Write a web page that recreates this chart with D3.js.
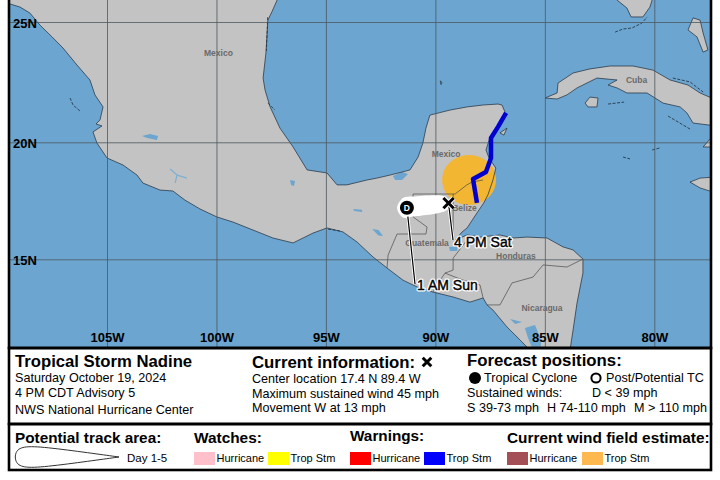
<!DOCTYPE html>
<html>
<head>
<meta charset="utf-8">
<title>Tropical Storm Nadine</title>
<script src="https://cdnjs.cloudflare.com/ajax/libs/d3/7.8.5/d3.min.js"></script>
<style>
  html, body { margin: 0; padding: 0; background: #fff; }
  svg { display: block; font-family: "Liberation Sans", Arial, sans-serif; }
</style>
</head>
<body>
<svg id="chart" width="720" height="480"></svg>
<script>
// all map data is [lon, lat]
var lonTicks = [-105, -100, -95, -90, -85, -80],
    latTicks = [25, 20, 15];

var mainland = [
  [-110,26.3],[-110,25.8],[-109.43,25.75],[-108.97,25.62],[-108.52,25.37],[-108.06,24.87],[-107.51,24.38],[-107.01,23.92],
  [-106.37,23.21],[-105.78,22.59],[-105.55,21.97],[-105.18,21.47],[-105.32,20.93],[-105.5,20.76],[-105.23,20.68],[-105.64,20.43],
  [-105.46,19.97],[-105,19.33],[-104.27,19.03],[-103.63,18.6],[-103.36,18.26],[-102.58,17.96],[-101.99,17.92],[-101.44,17.53],
  [-100.75,17.15],[-99.98,16.81],[-99.24,16.59],[-98.33,16.25],[-97.42,15.91],[-96.5,15.7],[-95.59,16.12],[-94.95,16.34],
  [-94.22,16.17],[-93.58,15.74],[-92.85,15.1],[-92.21,14.63],[-91.48,14.11],[-90.84,13.82],[-90.11,13.6],[-89.19,13.39],
  [-88.42,13.17],[-87.82,13.35],[-87.64,13.05],[-87.37,12.83],[-86.73,12.11],[-86.13,11.55],[-85.68,11.12],[-83.85,11.12],
  [-83.71,11.98],[-83.53,13.13],[-83.26,14.41],[-83.26,15.01],[-83.71,15.4],[-84.17,15.53],[-84.9,15.91],[-85.81,15.95],
  [-86.45,15.91],[-87.05,16.04],[-87.96,15.95],[-88.55,16.04],[-89.1,15.82],[-88.78,16.17],[-88.55,16.34],[-88.1,16.98],
  [-87.79,17.41],[-87.6,17.75],[-87.37,18.39],[-87.24,18.9],[-87.55,19.33],[-87.69,19.67],[-87.5,20.22],[-87.05,20.84],
  [-86.82,21.26],[-86.96,21.55],[-87.14,21.59],[-87.82,21.55],[-88.55,21.47],[-89.33,21.34],[-90.25,21.13],[-90.43,20.59],
  [-90.57,19.97],[-90.79,19.37],[-91.16,18.82],[-91.52,18.73],[-92.07,18.6],[-92.67,18.47],[-93.12,18.39],[-94.04,18.18],
  [-94.49,18.18],[-94.95,18.69],[-95.86,18.82],[-96.5,19.8],[-97.1,20.59],[-97.55,21.47],[-97.78,22.17],[-97.87,22.67],
  [-97.74,23.71],[-97.65,25.08],[-97.47,25.42],[-97.23,25.91],[-97.2,26.3]
];

var florida = [[-81.7,26.1],[-81.7,25.91],[-81.25,25.58],[-81.06,25.21],[-80.52,25.21],[-80.2,25.62],[-80.1,25.91],[-80.1,26.1]];
var cuba = [
  [-84.99,21.84],[-84.44,22.05],[-84.4,22.46],[-83.71,22.88],[-82.94,23.05],[-82.02,23.17],[-80.97,23.17],[-80.06,23],
  [-79.28,22.59],[-78.46,22.38],[-77.91,22.05],[-77.18,21.76],[-77.18,20.68],[-78.23,20.8],[-78.51,21.22],[-78.82,21.47],
  [-79.6,21.63],[-80.33,22.05],[-81.25,22.05],[-81.7,22.26],[-82.11,22.38],[-81.7,22.59],[-82.62,22.67],[-83.53,22.26],
  [-83.99,21.97],[-84.44,21.8]
];
var isleOfYouth = [[-83.16,21.63],[-82.94,21.88],[-82.57,21.84],[-82.62,21.47],[-83.03,21.47]];
var andros = [[-78.46,24.67],[-78.23,25.17],[-77.91,25.08],[-77.77,24.54],[-77.55,23.84],[-77.77,23.75],[-78.05,24.38]];
var jamaica = [[-78.37,18.3],[-77.91,18.47],[-77.18,18.52],[-77.18,17.83],[-77.91,18.05]];
var inagua = [[-77.77,19.8],[-77.45,20.14],[-77.18,20.14],[-77.18,19.8]];
var cozumel = [[-87.05,20.39],[-86.73,20.59],[-86.87,20.3]];
var alacran = [[-89.78,22.55],[-89.7,22.5],[-89.74,22.4]];
var landAreas = [mainland, florida, cuba, isleOfYouth, andros, jamaica, inagua, cozumel, alacran];

// cays and lagoons, too small to fill
var coastBits = [
  [[-81.79,24.58],[-81.43,24.71],[-81.02,24.75],[-80.56,24.96],[-80.33,25.21]],
  [[-81.43,19.37],[-81.11,19.29]],
  [[-80.1,19.67],[-79.74,19.76]],
  [[-82.11,21.59],[-81.38,21.67]],
  [[-79.37,21.09],[-78.37,20.55]],
  [[-79.15,22.67],[-78.37,22.51],[-77.77,22.09]],
  [[-106.69,21.84],[-106.55,21.55],[-106.23,21.3]],
  [[-97.66,25.2],[-97.72,23.8]],
  [[-97.65,21.63],[-97.33,21.34]],
  [[-94.9,16.29],[-94.36,16.21]]
];

var borders = [
  [[-92.21,14.63],[-92.16,15.18],[-91.75,16.08],[-90.43,16.08],[-90.38,16.38],[-91.02,16.81],[-91.02,17.79],[-89.1,17.79],[-88.56,18.18],[-88.33,18.3],[-87.82,18.39]],
  [[-89.19,17.79],[-89.19,16]],
  [[-88.55,15.82],[-89.19,15.05],[-89.19,14.54],[-89.56,14.41],[-89.93,13.9],[-90.11,13.6]],
  [[-89.56,14.41],[-88.74,14.11],[-87.96,13.9],[-87.82,13.35]],
  [[-87.64,13.05],[-87.05,13.05],[-86.5,13.99],[-85.54,14.24],[-85.08,14.76],[-83.99,14.67],[-83.26,15.01]]
];

var lakes = [
  [[-103.4,20.26],[-103.04,20.34],[-102.67,20.26],[-102.72,20.1],[-103.17,20.18]],
  [[-96.64,18.39],[-96.41,18.35],[-96.46,18.13],[-96.59,18.18]],
  [[-93.76,17.15],[-93.35,17.12],[-93.35,17.02],[-93.7,17.06]],
  [[-92.89,16.29],[-92.6,16.25],[-92.39,16],[-92.6,16.02]],
  [[-89.38,15.53],[-88.97,15.57],[-89.01,15.35],[-89.33,15.35]],
  [[-91.94,18.56],[-91.52,18.73],[-91.25,18.65],[-91.52,18.39],[-91.84,18.39]],
  [[-86.59,12.45],[-86.04,12.32],[-86.36,12.23]],
  [[-85.91,12.06],[-85.45,12.19],[-85.17,11.55],[-85.2,11.1],[-85.54,11.1],[-85.77,11.64]]
];
var reservoir = [
  [[-102.12,18.86],[-101.8,18.6],[-101.89,18.26]],
  [[-101.8,18.6],[-101.35,18.47]]
];

var countryNames = ["Mexico", "Mexico", "Cuba", "Belize", "Guatemala", "Honduras", "Nicaragua"],
    countryLons = [-99.91, -89.51, -80.81, -88.67, -90.38, -86.32, -85.13],
    countryLats = [23.59, 19.37, 22.46, 17.06, 15.57, 15.01, 12.79];

var windField = [
  [-87.23,18.39],[-87.39,18.93],[-87.85,19.32],[-88.46,19.46],[-89.07,19.32],[-89.53,18.93],
  [-89.69,18.39],[-89.53,17.85],[-89.07,17.46],[-88.46,17.32],[-87.85,17.46],[-87.39,17.85]
];
var warningLine = [[-86.77,21.22],[-87.14,20.64],[-87.46,20.18],[-87.46,19.33],[-87.69,18.73],[-88.28,18.43],[-88.1,17.41]];
var trackCone = [[-91.48,17.62],[-91.02,17.68],[-89.56,17.68],[-89.36,17.41],[-89.47,17.11],[-91.02,16.83],[-91.48,16.79],[-91.75,17.19]];
var currentPos = [-89.4, 17.4],
    forecastPos = [-91.3, 17.2];

var infoLeft = ["Saturday October 19, 2024", "4 PM CDT Advisory 5", "NWS National Hurricane Center"],
    infoMiddle = ["Center location 17.4 N 89.4 W", "Maximum sustained wind 45 mph", "Movement W at 13 mph"];

var svg = d3.select("#chart");

var lonScale = d3.scaleLinear().domain([-105, -80]).range([107, 654.3]),
    latScale = d3.scaleLinear().domain([15, 20, 25]).range([259.3, 142.3, 22]);

var line = d3.line().x(function (d) { return lonScale(d[0]); }).y(function (d) { return latScale(d[1]); }),
    closedLine = d3.line().x(function (d) { return lonScale(d[0]); }).y(function (d) { return latScale(d[1]); }).curve(d3.curveLinearClosed),
    roundLine = d3.line().x(function (d) { return lonScale(d[0]); }).y(function (d) { return latScale(d[1]); }).curve(d3.curveCatmullRomClosed);

svg.append("clipPath").attr("id", "map-clip")
  .append("rect").attr("x", 9).attr("y", 0).attr("width", 702).attr("height", 348);

var map = svg.append("g").attr("clip-path", "url(#map-clip)");

map.append("rect").attr("x", 9).attr("y", 0).attr("width", 702).attr("height", 348).attr("fill", "#6ca5cf");

map.selectAll(".land").data(landAreas).enter().append("path")
  .attr("class", "land").attr("d", closedLine).attr("fill", "#c3c3c3");

map.selectAll(".lake").data(lakes).enter().append("path")
  .attr("class", "lake").attr("d", closedLine).attr("fill", "#6ca5cf");

map.selectAll(".reservoir").data(reservoir).enter().append("path")
  .attr("class", "reservoir").attr("d", line).attr("fill", "none").attr("stroke", "#7fafd2").attr("stroke-width", 1.2);

map.append("path").attr("d", roundLine(windField)).attr("fill", "#f2b632");

map.selectAll(".coast").data(landAreas).enter().append("path")
  .attr("class", "coast").attr("d", closedLine).attr("fill", "none").attr("stroke", "#1d2b3a").attr("stroke-width", 0.7);

map.selectAll(".coast-bit").data(coastBits).enter().append("path")
  .attr("class", "coast-bit").attr("d", line).attr("fill", "none").attr("stroke", "#1d2b3a")
  .attr("stroke-width", 0.8).attr("stroke-dasharray", "3 1.5");

map.selectAll(".border").data(borders).enter().append("path")
  .attr("class", "border").attr("d", line).attr("fill", "none").attr("stroke", "#4b4b4b").attr("stroke-width", 0.7);

// grid and tick labels come from the axes
var xAxis = d3.axisBottom(lonScale).tickValues(lonTicks).tickSize(-348)
  .tickFormat(function (d) { return -d + "W"; });
var xg = map.append("g").attr("transform", "translate(0,348)").call(xAxis);
var yAxis = d3.axisRight(latScale).tickValues(latTicks).tickSize(702)
  .tickFormat(function (d) { return d + "N"; });
var yg = map.append("g").attr("transform", "translate(9,0)").call(yAxis);
[xg, yg].forEach(function (g) {
  g.select(".domain").remove();
  g.selectAll("line").attr("stroke", "#4d5860").attr("stroke-width", 0.8);
  g.selectAll("text").attr("fill", "#000").style("font-family", "'Liberation Sans', Arial, sans-serif")
    .style("font-size", "13px").style("font-weight", "bold");
});
xg.selectAll("text").attr("y", -6).attr("dy", 0).attr("text-anchor", "middle");
yg.selectAll("text").attr("x", 4).attr("dy", 5).attr("text-anchor", "start");

map.selectAll(".name").data(countryNames).enter().append("text")
  .attr("class", "name")
  .attr("x", function (d, i) { return lonScale(countryLons[i]); })
  .attr("y", function (d, i) { return latScale(countryLats[i]); })
  .attr("text-anchor", "middle").attr("fill", "#6a6a6a")
  .style("font-size", "8.5px").style("font-weight", "bold")
  .text(function (d) { return d; });

map.append("path").attr("d", line(warningLine)).attr("fill", "none")
  .attr("stroke", "#0000d0").attr("stroke-width", 4.5).attr("stroke-linejoin", "round");

map.append("path").attr("d", roundLine(trackCone)).attr("fill", "#fff");

// leader lines with a white edge
var leaders = [
  {from: currentPos, x: 453, y: 240},
  {from: forecastPos, x: 415, y: 284}
];
leaders.forEach(function (l) {
  [["#fff", 3], ["#000", 1.2]].forEach(function (s) {
    map.append("line")
      .attr("x1", lonScale(l.from[0])).attr("y1", latScale(l.from[1]))
      .attr("x2", l.x).attr("y2", l.y)
      .attr("stroke", s[0]).attr("stroke-width", s[1]);
  });
});

function haloText (txt, x, y) {
  [true, false].forEach(function (halo) {
    var t = map.append("text").attr("x", x).attr("y", y)
      .style("font-size", "14px").style("font-weight", "normal").text(txt);
    if (halo) {
      t.attr("fill", "#fff").attr("stroke", "#fff").attr("stroke-width", 3).attr("stroke-linejoin", "round");
    } else {
      t.attr("fill", "#000").attr("stroke", "#000").attr("stroke-width", 0.4);
    }
  });
}
haloText("4 PM Sat", 454, 247);
haloText("1 AM Sun", 417, 290);

// forecast point
map.append("circle").attr("cx", lonScale(forecastPos[0])).attr("cy", latScale(forecastPos[1]))
  .attr("r", 9).attr("fill", "#fff");
map.append("circle").attr("cx", lonScale(forecastPos[0])).attr("cy", latScale(forecastPos[1]))
  .attr("r", 7).attr("fill", "#000");
map.append("text").attr("x", lonScale(forecastPos[0])).attr("y", latScale(forecastPos[1]) + 3)
  .attr("text-anchor", "middle").attr("fill", "#fff")
  .style("font-size", "8.5px").style("font-weight", "bold").text("D");

// current position
var xMark = d3.symbol().type(d3.symbolTimes).size(70);
map.append("path").attr("d", xMark())
  .attr("transform", "translate(" + lonScale(currentPos[0]) + "," + latScale(currentPos[1]) + ")")
  .attr("fill", "none").attr("stroke", "#fff").attr("stroke-width", 5);
map.append("path").attr("d", xMark())
  .attr("transform", "translate(" + lonScale(currentPos[0]) + "," + latScale(currentPos[1]) + ")")
  .attr("fill", "none").attr("stroke", "#000").attr("stroke-width", 3);

// frame, the map has no top edge
[[9, -5, 702, 353], [9, 348, 702, 76], [9, 424, 702, 46]].forEach(function (r) {
  svg.append("rect").attr("x", r[0]).attr("y", r[1]).attr("width", r[2]).attr("height", r[3])
    .attr("fill", "none").attr("stroke", "#000").attr("stroke-width", 2.6);
});

function label (txt, x, y, size, bold) {
  return svg.append("text").attr("x", x).attr("y", y)
    .style("font-size", size + "px").style("font-weight", bold ? "bold" : "normal")
    .attr("fill", "#000").text(txt);
}

label("Tropical Storm Nadine", 15, 367, 16.7, true);
infoLeft.forEach(function (d, i) { label(d, 15, [382, 397, 414][i], 12.6); });

label("Current information:", 252, 368, 16.8, true);
svg.append("path").attr("d", d3.symbol().type(d3.symbolTimes).size(50)())
  .attr("transform", "translate(427,362)").attr("fill", "none").attr("stroke", "#000").attr("stroke-width", 3);
infoMiddle.forEach(function (d, i) { label(d, 252, [383, 398, 412][i], 12.6); });

label("Forecast positions:", 467, 366, 16.8, true);
svg.append("circle").attr("cx", 475).attr("cy", 378).attr("r", 6).attr("fill", "#000");
label("Tropical Cyclone", 484, 382, 12.6);
svg.append("circle").attr("cx", 596).attr("cy", 378).attr("r", 4.6).attr("fill", "#fff").attr("stroke", "#000").attr("stroke-width", 2);
label("Post/Potential TC", 606, 382, 12.6);
label("Sustained winds:", 467, 397, 12.6);
label("D < 39 mph", 592, 397, 12.6);
label("S 39-73 mph", 467, 412, 12.6);
label("H 74-110 mph", 547, 412, 12.6);
label("M > 110 mph", 634, 412, 12.6);

label("Potential track area:", 15, 443, 15.3, true);
svg.append("path").attr("d", d3.line().curve(d3.curveBasis)([[119, 457], [90, 453], [45, 447], [22, 446], [15, 452], [15, 462], [22, 468], [45, 467], [90, 461], [119, 457]]))
  .attr("fill", "#fff").attr("stroke", "#333").attr("stroke-width", 1);
label("Day 1-5", 127, 462, 11.5);

label("Watches:", 194, 443, 15.4, true);
label("Warnings:", 350, 441, 15.3, true);
label("Current wind field estimate:", 507, 443, 15.4, true);

var swatchNames = ["Hurricane", "Trop Stm", "Hurricane", "Trop Stm", "Hurricane", "Trop Stm"],
    swatchColors = ["#ffc0cb", "#ffff00", "#ff0000", "#0000ff", "#a34f55", "#fdb84f"],
    swatchXs = [194, 268, 350, 424, 507, 582];
svg.selectAll(".swatch").data(swatchColors).enter().append("rect")
  .attr("class", "swatch").attr("x", function (d, i) { return swatchXs[i]; })
  .attr("y", 452).attr("width", 21).attr("height", 13).attr("fill", function (d) { return d; });
swatchNames.forEach(function (d, i) { label(d, swatchXs[i] + 22.5, 462, 11); });
</script>
</body>
</html>
